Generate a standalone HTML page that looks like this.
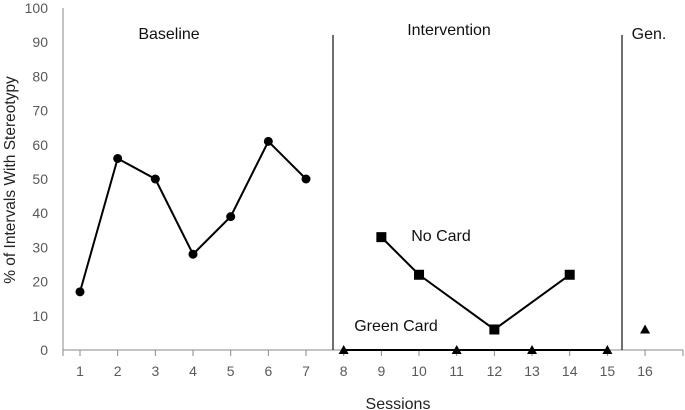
<!DOCTYPE html>
<html><head><meta charset="utf-8"><style>
body{margin:0;background:#fff}
svg{display:block;font-family:"Liberation Sans",sans-serif}
</style></head><body>
<svg id="c" width="685" height="410"></svg>
<script>
const sessions=[1,2,3,4,5,6,7,8,9,10,11,12,13,14,15,16];
const yTicks=[0,10,20,30,40,50,60,70,80,90,100];
const baselineX=[1,2,3,4,5,6,7];
const baselineY=[17,56,50,28,39,61,50];
const noCardX=[9,10,12,14];
const noCardY=[33,22,6,22];
const greenX=[8,11,13,15];
const greenY=[0,0,0,0];
const genX=[16];
const genY=[6];
const NS="http://www.w3.org/2000/svg";
const svg=document.getElementById('c');
const xs=s=>80+(s-1)*37.67;
const ys=v=>350-v*3.42;
function el(t,a,name,txt){const e=document.createElementNS(NS,t);for(const k in a)e.setAttribute(k,a[k]);


if(txt!==undefined)e.textContent=txt;svg.appendChild(e);return e;}
el('line',{x1:63,y1:ys(100),x2:63,y2:350,stroke:'#888','stroke-width':1},'y-axis');
el('line',{x1:63,y1:350,x2:683,y2:350,stroke:'#888','stroke-width':1},'x-axis');
yTicks.forEach(v=>{el('text',{x:48,y:ys(v)+5,'text-anchor':'end','font-size':14,fill:'#595959'},'y-tick-label',v);});
el('line',{x1:63,y1:350,x2:63,y2:356,stroke:'#888'},'x-tick');
el('line',{x1:683,y1:350,x2:683,y2:356,stroke:'#888'},'x-tick');
sessions.forEach(s=>{el('line',{x1:xs(s),y1:350,x2:xs(s),y2:356,stroke:'#888'},'x-tick');
el('text',{x:xs(s),y:376,'text-anchor':'middle','font-size':14,fill:'#595959'},'x-tick-label',s);});
el('text',{x:398,y:409,'text-anchor':'middle','font-size':16,fill:'#222'},'x-axis-title','Sessions');
el('text',{x:0,y:0,'text-anchor':'middle','font-size':15.5,fill:'#222',transform:'translate(15,180) rotate(-90)'},'y-axis-title','% of Intervals With Stereotypy');
el('line',{x1:333,y1:35,x2:333,y2:350,stroke:'#222','stroke-width':1.3},'phase-line-1');
el('line',{x1:622,y1:35,x2:622,y2:350,stroke:'#222','stroke-width':1.3},'phase-line-2');
el('text',{x:169,y:39,'text-anchor':'middle','font-size':16,fill:'#111'},'baseline-label','Baseline');
el('text',{x:449,y:35,'text-anchor':'middle','font-size':16,fill:'#111'},'intervention-label','Intervention');
el('text',{x:649,y:39,'text-anchor':'middle','font-size':16,fill:'#111'},'generalization-label','Gen.');
el('text',{x:441,y:241,'text-anchor':'middle','font-size':16,fill:'#111'},'no-card-label','No Card');
el('text',{x:396,y:331,'text-anchor':'middle','font-size':16,fill:'#111'},'green-card-label','Green Card');
function poly(X,Y,name){el('polyline',{points:X.map((x,i)=>xs(x)+','+ys(Y[i])).join(' '),fill:'none',stroke:'#000','stroke-width':2},name);}
poly(baselineX,baselineY,'baseline-line');
poly(noCardX,noCardY,'no-card-line');
poly(greenX,greenY,'green-card-line');
baselineX.forEach((x,i)=>el('circle',{cx:xs(x),cy:ys(baselineY[i]),r:4.5,fill:'#000'},'baseline-point'));
noCardX.forEach((x,i)=>el('rect',{x:xs(x)-5,y:ys(noCardY[i])-5,width:10,height:10,fill:'#000'},'no-card-point'));
function tri(x,y,name){el('polygon',{points:`${x-5},${y+4} ${x+5},${y+4} ${x},${y-5}`,fill:'#000'},name);}
greenX.forEach((x,i)=>tri(xs(x),ys(greenY[i]),'green-card-point'));
genX.forEach((x,i)=>tri(xs(x),ys(genY[i]),'generalization-point'));
</script>
</body></html>
